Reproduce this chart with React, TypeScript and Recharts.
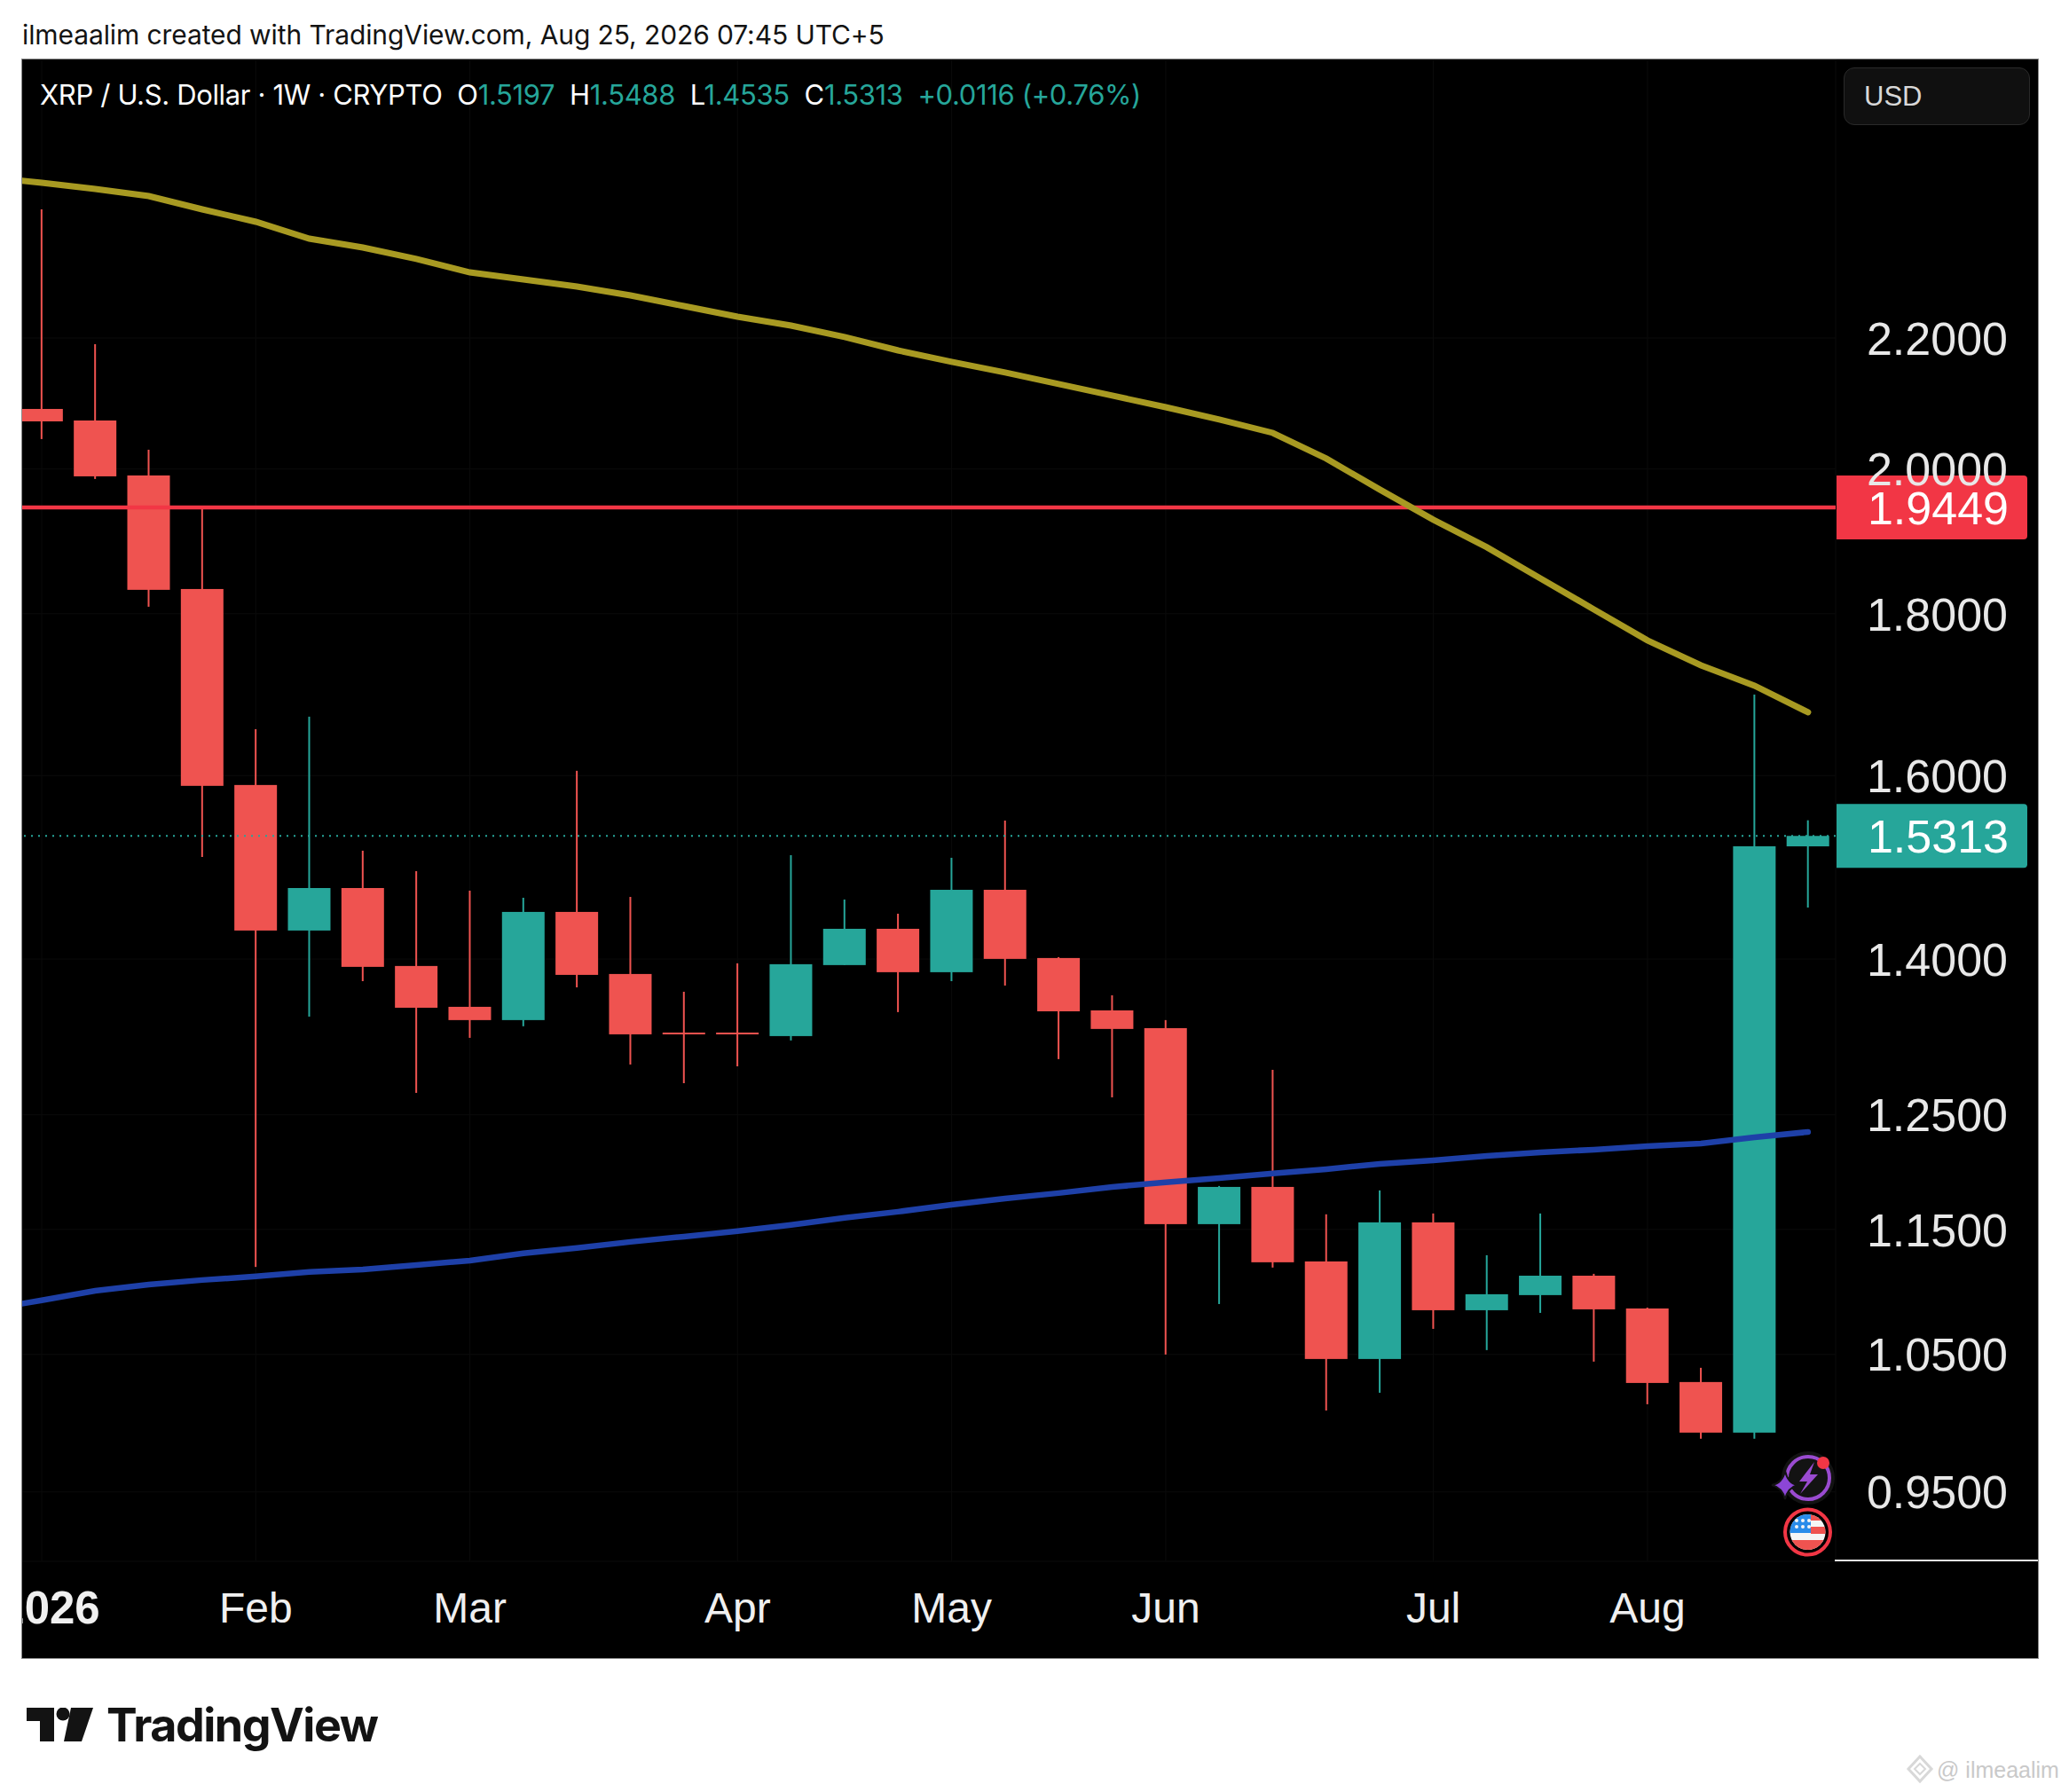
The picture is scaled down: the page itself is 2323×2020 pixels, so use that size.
import {
  Bar,
  CartesianGrid,
  ComposedChart,
  Line,
  ReferenceLine,
  XAxis,
  YAxis,
} from "recharts";

// weekly candles
const opens = [2.0893, 2.0718, 1.9906, 1.8327, 1.5891, 1.4294, 1.4743, 1.393, 1.3522, 1.3392, 1.4489, 1.3849, 1.3271, 1.3271, 1.3237, 1.3939, 1.4312, 1.3867, 1.4724, 1.4011, 1.3487, 1.3314, 1.1544, 1.1861, 1.1235, 1.0465, 1.1559, 1.0843, 1.0963, 1.1119, 1.0857, 1.0291, 0.9919, 1.5197];
const highs = [2.4159, 2.1901, 2.0282, 1.9437, 1.655, 1.6701, 1.5149, 1.4925, 1.4715, 1.4639, 1.6056, 1.4648, 1.3671, 1.3957, 1.51, 1.462, 1.447, 1.5071, 1.5485, 1.402, 1.3636, 1.3392, 1.1869, 1.2916, 1.1627, 1.1831, 1.1634, 1.1286, 1.1634, 1.1134, 1.0864, 1.0398, 1.6972, 1.5488];
const lows = [2.044, 1.9855, 1.8092, 1.508, 1.119, 1.3426, 1.3777, 1.2701, 1.322, 1.3332, 1.3715, 1.2966, 1.2791, 1.2949, 1.3195, 1.3939, 1.347, 1.3777, 1.3733, 1.3017, 1.266, 1.0499, 1.0892, 1.1185, 1.008, 1.0211, 1.0697, 1.0533, 1.0822, 1.0445, 1.0126, 0.9875, 0.9875, 1.4535];
const closes = [2.0705, 1.9893, 1.8316, 1.5881, 1.4294, 1.4743, 1.3921, 1.3513, 1.3392, 1.4489, 1.384, 1.3254, 1.3254, 1.3254, 1.3948, 1.4312, 1.3867, 1.4724, 1.4002, 1.3478, 1.3306, 1.1544, 1.1861, 1.1228, 1.0465, 1.1559, 1.0843, 1.097, 1.1119, 1.085, 1.0284, 0.9919, 1.5198, 1.5313];

// moving averages, first value belongs to the week before the first candle
const slowMa = [2.4727, 2.4631, 2.452, 2.4393, 2.4159, 2.3942, 2.365, 2.3498, 2.3302, 2.3076, 2.2958, 2.284, 2.2692, 2.2517, 2.2344, 2.22, 2.2015, 2.1802, 2.1621, 2.1454, 2.1275, 2.1097, 2.092, 2.0733, 2.0532, 2.0152, 1.9702, 1.9274, 1.8892, 1.847, 1.8057, 1.7654, 1.7337, 1.7082, 1.6754];
const fastMa = [1.085, 1.0921, 1.0998, 1.1048, 1.1084, 1.1113, 1.1149, 1.117, 1.1206, 1.1242, 1.1301, 1.1345, 1.1396, 1.144, 1.1485, 1.1537, 1.1597, 1.1649, 1.1709, 1.1762, 1.1808, 1.1861, 1.19, 1.1938, 1.1977, 1.2015, 1.2062, 1.2093, 1.2132, 1.2163, 1.2187, 1.2218, 1.2242, 1.2297, 1.2345];

const priceTicks = [0.95, 1.05, 1.15, 1.25, 1.4, 1.6, 1.8, 2.0, 2.2];
const monthTicks = [0, 4, 8, 13, 17, 21, 26, 30];
const monthLabels = ["2026", "Feb", "Mar", "Apr", "May", "Jun", "Jul", "Aug"];
const resistance = 1.9449;
const lastClose = 1.5313;

const UP = "#26a69a";
const DOWN = "#ef5350";
const FONT = "'Liberation Sans', Arial, sans-serif";

const rows = slowMa.map((slow, k) => {
  const c = k - 1;
  const row: any = { week: c, slow, fast: fastMa[k] };
  if (c >= 0) {
    row.wick = [lows[c], highs[c]];
    row.body = [Math.min(opens[c], closes[c]), Math.max(opens[c], closes[c])];
    row.color = closes[c] >= opens[c] ? UP : DOWN;
  }
  return row;
});

function candleBody(props: any) {
  const { x, y, width, height, payload } = props;
  if (!payload || !payload.color) return <g />;
  return <rect x={x} y={y} width={width} height={Math.max(Math.abs(height), 2)} fill={payload.color} />;
}

function candleWick(props: any) {
  const { x, y, width, height, payload } = props;
  if (!payload || !payload.color) return <g />;
  return <rect x={x + width / 2 - 1} y={y} width={2} height={Math.abs(height)} fill={payload.color} />;
}

function PriceTick({ x, y, payload }: any) {
  return (
    <text x={x + 194} y={y} dy="0.36em" textAnchor="end" fill="#e8e8e8" fontSize={52} fontFamily={FONT}>
      {payload.value.toFixed(4)}
    </text>
  );
}

function MonthTick({ x, y, payload }: any) {
  const label = monthLabels[monthTicks.indexOf(payload.value)];
  const isYear = label === "2026";
  return (
    <text
      x={isYear ? x + 9 : x}
      y={y}
      dy="0.36em"
      textAnchor="middle"
      fill="#f0f0f0"
      fontSize={isYear ? 51 : 48}
      fontWeight={isYear ? 700 : 400}
      fontFamily={FONT}
    >
      {label}
    </text>
  );
}

function PriceBadge({ viewBox, fill, text }: any) {
  const { x, y, width } = viewBox;
  const left = x + width + 1;
  return (
    <g>
      <path
        d={`M${left} ${y - 36}H${left + 211}a4 4 0 0 1 4 4V${y + 32}a4 4 0 0 1 -4 4H${left}Z`}
        fill={fill}
      />
      <text x={x + width + 195} y={y} dy="0.36em" textAnchor="end" fill="#fff" fontSize={52} fontFamily={FONT}>
        {text}
      </text>
    </g>
  );
}

function Header() {
  const green = { color: UP };
  return (
    <div
      style={{
        position: "absolute",
        left: 45,
        top: 89,
        color: "#fff",
        fontSize: 31,
        lineHeight: "36px",
        fontFamily: "Inter, sans-serif",
        whiteSpace: "pre",
        letterSpacing: -0.35,
      }}
    >
      XRP / U.S. Dollar · 1W · CRYPTO{"  "}O<span style={green}>1.5197</span>{"  "}H
      <span style={green}>1.5488</span>{"  "}L<span style={green}>1.4535</span>{"  "}C
      <span style={green}>1.5313</span>{"  "}
      <span style={green}>+0.0116 (+0.76%)</span>
    </div>
  );
}

function Markers() {
  const stars = [
    [50, 84], [57, 84], [64, 84],
    [50, 91], [57, 91], [64, 91],
  ];
  return (
    <svg style={{ position: "absolute", left: 1975, top: 1630 }} width={100} height={135}>
      <circle cx={63} cy={36} r={30} fill="#131313" />
      <circle cx={63} cy={36} r={24} fill="none" stroke="#9a4bd0" strokeWidth={4} />
      <path d="M70 18L53 40H62L54 54L74 32H65Z" fill="#9a4bd0" />
      <path d="M37 28Q40 42 51 44Q40 47 37 60Q34 47 22 44Q34 42 37 28Z" fill="#8c46d6" stroke="#131313" strokeWidth={2} />
      <circle cx={80} cy={19} r={7} fill="#f23645" />
      <circle cx={62.5} cy={97} r={25.5} fill="#000" stroke="#f23645" strokeWidth={4} />
      <clipPath id="flag">
        <circle cx={62.5} cy={97} r={20} />
      </clipPath>
      <g clipPath="url(#flag)">
        <rect x={42} y={77} width={42} height={40} fill="#f5f5f5" />
        <rect x={66} y={77} width={20} height={7} fill="#ef5350" />
        <rect x={66} y={91} width={20} height={8} fill="#ef5350" />
        <rect x={42} y={106} width={42} height={12} fill="#ef5350" />
        <rect x={42} y={77} width={24} height={21} fill="#2a8cea" />
        {stars.map(([cx, cy]) => (
          <circle key={`${cx}-${cy}`} cx={cx} cy={cy} r={2} fill="#f5f5f5" />
        ))}
      </g>
    </svg>
  );
}

function Logo() {
  return (
    <div style={{ position: "absolute", left: 30, top: 1915 }}>
      <svg width={76} height={50} style={{ position: "absolute", left: 0, top: 10 }}>
        <path d="M0 0H31V38H15V15H0Z" fill="#131313" />
        <circle cx={41} cy={7} r={7.5} fill="#131313" />
        <path d="M50 0H75L62 38H42Z" fill="#131313" />
      </svg>
      <div
        style={{
          position: "absolute",
          left: 90,
          top: 0,
          color: "#131313",
          fontFamily: "Inter, sans-serif",
          fontWeight: 700,
          fontSize: 52,
          lineHeight: "60px",
          letterSpacing: -1.5,
        }}
      >
        TradingView
      </div>
    </div>
  );
}

export default function App() {
  return (
    <div style={{ position: "absolute", left: 0, top: 0, width: 2323, height: 2020, background: "#fff", overflow: "hidden" }}>
      <div
        style={{
          position: "absolute",
          left: 25,
          top: 19,
          fontFamily: "Inter, sans-serif",
          fontSize: 30,
          lineHeight: "40px",
          color: "#131313",
          letterSpacing: -0.1,
          whiteSpace: "pre",
        }}
      >
        ilmeaalim created with TradingView.com, Aug 25, 2026 07:45 UTC+5
      </div>

      <div style={{ position: "absolute", left: 25, top: 67, width: 2272, height: 1802, background: "#000", outline: "1.5px solid #8a8a8a" }}>
        <ComposedChart width={2272} height={1802} data={rows} margin={{ top: 0, right: 0, bottom: 0, left: 0 }} barSize={48} barGap={-48}>
          <CartesianGrid stroke="#0b0b0b" strokeWidth={1} />
          <XAxis
            dataKey="week"
            type="number"
            domain={[-0.3647, 33.516]}
            allowDataOverflow
            ticks={monthTicks}
            interval={0}
            height={109}
            axisLine={false}
            tickLine={false}
            tickSize={0}
            tickMargin={52}
            tick={<MonthTick />}
          />
          <YAxis
            type="number"
            scale="log"
            orientation="right"
            domain={[0.9032, 2.6944]}
            allowDataOverflow
            ticks={priceTicks}
            interval={0}
            width={228}
            axisLine={false}
            tickLine={false}
            tickSize={0}
            tickMargin={0}
            tick={<PriceTick />}
          />
          <ReferenceLine y={resistance} stroke="#f23645" strokeWidth={4.5} label={<PriceBadge fill="#f23645" text="1.9449" />} />
          <Line dataKey="slow" stroke="#a89a22" strokeWidth={7} dot={false} type="linear" strokeLinecap="round" isAnimationActive={false} />
          <Line dataKey="fast" stroke="#1e40a8" strokeWidth={6.5} dot={false} type="linear" strokeLinecap="round" isAnimationActive={false} />
          <Bar dataKey="wick" shape={candleWick} isAnimationActive={false} />
          <Bar dataKey="body" shape={candleBody} isAnimationActive={false} />
          <ReferenceLine
            y={lastClose}
            stroke={UP}
            strokeWidth={2}
            strokeDasharray="2 6"
            label={<PriceBadge fill={UP} text="1.5313" />}
          />
        </ComposedChart>
      </div>

      <Header />
      <div
        style={{
          position: "absolute",
          left: 2078,
          top: 76,
          width: 186,
          height: 63,
          background: "#101010",
          border: "1px solid #2a2a2a",
          borderRadius: 12,
          color: "#d8d8d8",
          fontFamily: FONT,
          fontSize: 31,
          lineHeight: "63px",
          paddingLeft: 22,
        }}
      >
        USD
      </div>
      <div style={{ position: "absolute", left: 2068, top: 1758, width: 229, height: 2, background: "#e8e8e8" }} />
      <Markers />
      <Logo />
      <div
        style={{
          position: "absolute",
          left: 2183,
          top: 1978,
          color: "#c9c9c9",
          fontFamily: FONT,
          fontSize: 25,
          lineHeight: "34px",
          whiteSpace: "pre",
        }}
      >
        @ ilmeaalim
      </div>
      <svg style={{ position: "absolute", left: 2148, top: 1978 }} width={32} height={34}>
        <path d="M16 2L29 16L16 30L3 16Z" fill="none" stroke="#d8d8d8" strokeWidth={3} />
        <path d="M16 10L22 16L16 22L10 16Z" fill="none" stroke="#d8d8d8" strokeWidth={2} />
      </svg>
    </div>
  );
}
